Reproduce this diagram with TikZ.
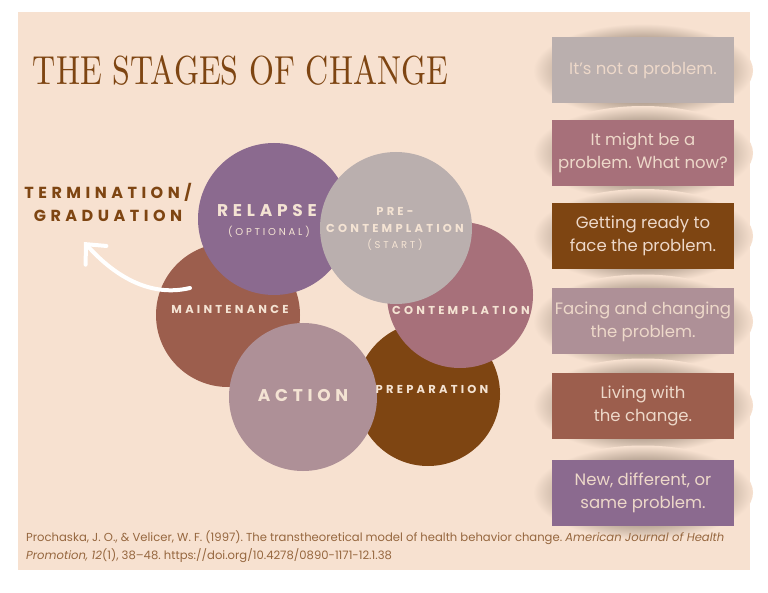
\documentclass[tikz,border=0pt]{standalone}
\usepackage{fontspec}
\usepackage{graphicx}
\newfontfamily\bodyfont{Poppins}
\newfontfamily\capsfont[LetterSpace=28]{Poppins}
\usetikzlibrary{arrows.meta}
\frenchspacing

\definecolor{bgc}{HTML}{F7E1D0}
\definecolor{shadowc}{HTML}{B7A494}
\definecolor{relc}{HTML}{8B6A8F}
\definecolor{prec}{HTML}{BAAFAE}
\definecolor{contc}{HTML}{A7707A}
\definecolor{prepc}{HTML}{7E4512}
\definecolor{actc}{HTML}{AE9097}
\definecolor{maintc}{HTML}{9C5E4D}
\definecolor{stagetextc}{HTML}{F4E3D3}
\definecolor{cardtextc}{HTML}{EDD8C9}
\definecolor{citec}{HTML}{96673F}

\pgfdeclareradialshading{cardshadow}{\pgfpoint{0bp}{0bp}}{color(0bp)=(shadowc); color(17bp)=(shadowc); color(25bp)=(bgc); color(50bp)=(bgc)}

\begin{document}
\begin{tikzpicture}[x=1pt,y=-1pt,
    stage/.style = {circle,inner sep=0pt,outer sep=0pt},
    stagelabel/.style = {text=stagetextc,inner sep=0pt,align=center},
    bigcaps/.style = {font=\capsfont\bfseries\fontsize{17}{20}\selectfont},
    smallcaps/.style = {font=\capsfont\bfseries\fontsize{11.5}{16.5}\selectfont},
    card/.style = {rectangle,minimum width=182pt,minimum height=66pt,inner sep=0pt,text=cardtextc,align=center,font=\bodyfont\fontsize{16.5}{23}\selectfont}]
\fill[white] (0,0) rectangle (768,593);
\fill[bgc] (18,12) rectangle (750,570);

\node[inner sep=0pt,text=prepc] (title) at (240.5,70.5) {\resizebox{415pt}{29pt}{THE STAGES OF CHANGE}};

\foreach \name/\x/\y/\d/\col in {maint/228/315/144/maintc, prep/428/394/144/prepc, cont/460/295/146/contc, act/303/397/148/actc, rel/274/219/152/relc, pre/396/228/152/prec}
    \node[stage,fill=\col,minimum size=\d pt] (\name) at (\x,\y) {};

\node[stagelabel,bigcaps] (reltext) at (267,211) {RELAPSE};
\node[stagelabel,font=\capsfont\fontsize{10}{12}\selectfont] (optional) at (269,232) {(OPTIONAL)};
\node[stagelabel,smallcaps] (pretext) at (395,229) {PRE-\\CONTEMPLATION\\{\capsfont\mdseries\fontsize{10}{12}\selectfont (START)}};
\node[stagelabel,smallcaps] (conttext) at (461,310) {CONTEMPLATION};
\node[stagelabel,smallcaps] (preptext) at (432,389) {PREPARATION};
\node[stagelabel,bigcaps] (acttext) at (303,396) {ACTION};
\node[stagelabel,smallcaps] (mainttext) at (230,309) {MAINTENANCE};

\node[inner sep=0pt,align=center,text=prepc,font=\capsfont\bfseries\fontsize{16}{23}\selectfont] (termination) at (108,202) {TERMINATION/\\GRADUATION};

\coordinate (arrowtail) at (190,288);
\coordinate (arrowtip) at (84,242);
\draw[white,line width=4pt,line cap=round,-{Straight Barb[length=15pt,width=28pt,line cap=round]}] (arrowtail) .. controls (140,300) and (102,262) .. (arrowtip);

\foreach \name/\y/\col/\txt in {c1/70.5/prec/{It’s not a problem.}, c2/153/contc/{It might be a\\problem. What now?}, c3/236/prepc/{Getting ready to\\face the problem.}, c4/321.5/actc/{Facing and changing\\the problem.}, c5/405.5/maintc/{Living with\\the change.}, c6/492.5/relc/{New, different, or\\same problem.}} {
    \shade[shading=cardshadow] (643,\y) ellipse [x radius=110, y radius=47];
    \node[card,fill=\col] (\name) at (643,\y) {\txt};
}

\node[anchor=north west,inner sep=0pt,align=left,text=citec,font=\bodyfont\fontsize{11.6}{18}\selectfont] (citation) at (26,530) {Prochaska, J. O., \& Velicer, W. F. (1997). The transtheoretical model of health behavior change. \textit{American Journal of Health}\\\textit{Promotion, 12}(1), 38–48. https://doi.org/10.4278/0890-1171-12.1.38};
\end{tikzpicture}
\end{document}
